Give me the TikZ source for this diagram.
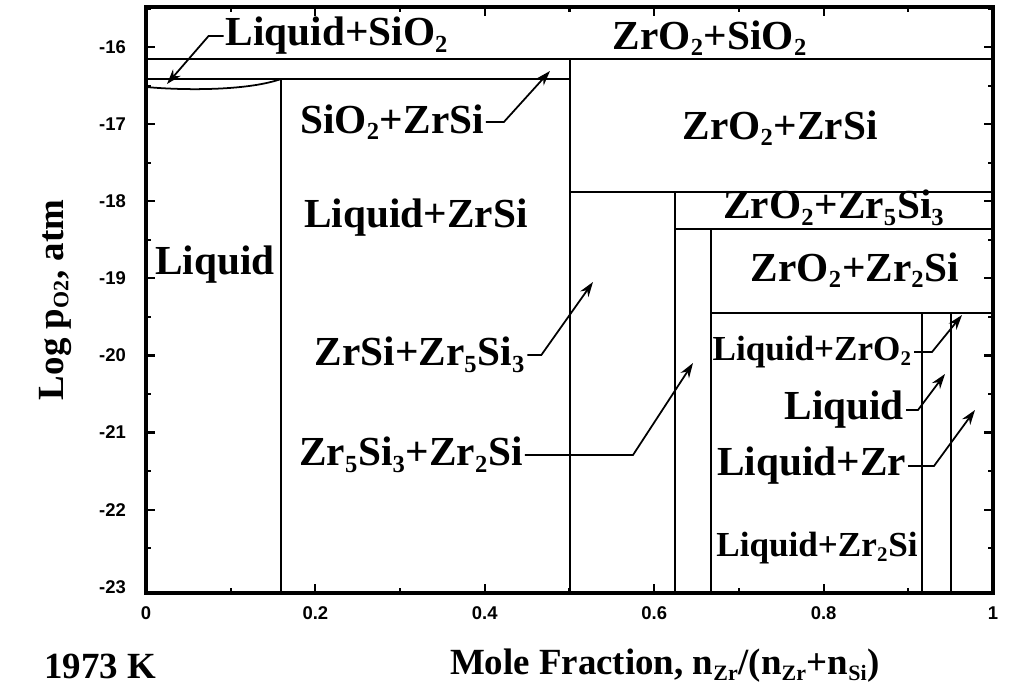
\documentclass[tikz,border=0pt]{standalone}
\usepackage{fontspec}
\setmainfont{Liberation Serif}
\setsansfont{Liberation Sans}
\usetikzlibrary{arrows.meta, positioning}
\newcommand{\sbs}[1]{\textsubscript{\scalebox{0.85}{#1}}}

\begin{document}
\begin{tikzpicture}[x=0.02cm, y=-0.02cm,
    phase/.style={font=\fontsize{23.5}{26}\selectfont\bfseries, inner sep=1pt},
    phasesm/.style={font=\fontsize{20}{22}\selectfont\bfseries, inner sep=1pt},
    axlabel/.style={font=\fontsize{21}{24}\selectfont\bfseries},
    ticklab/.style={font=\sffamily\bfseries\fontsize{10.5}{12}\selectfont},
    bound/.style={line width=1pt},
    leader/.style={line width=1pt, -{Stealth[length=3mm, width=2mm]}}
]
\useasboundingbox (0,0) rectangle (1018,689);

% frame
\draw[line width=2pt] (146,7) rectangle (993,593);

% ticks
\foreach \i in {0,...,10}{
  \pgfmathsetmacro{\tx}{146+84.7*\i}
  \pgfmathsetmacro{\tl}{ifthenelse(mod(\i,2)==0,9,5)}
  \draw[line width=1.2pt] (\tx,593) -- ++(0,-\tl);
  \draw[line width=1.2pt] (\tx,7) -- ++(0,\tl);
}
\foreach \j in {0,...,14}{
  \pgfmathsetmacro{\ty}{8.5+38.55*\j}
  \pgfmathsetmacro{\tl}{ifthenelse(mod(\j,2)==1,9,5)}
  \draw[line width=1.2pt] (146,\ty) -- ++(\tl,0);
  \draw[line width=1.2pt] (993,\ty) -- ++(-\tl,0);
}
\foreach \v [count=\k from 0] in {-16,-17,-18,-19,-20,-21,-22,-23}
  \node[ticklab, anchor=east] (yl\k) at (132,47+77.1*\k) {\v};
\foreach \v [count=\k from 0] in {0,0.2,0.4,0.6,0.8,1}
  \node[ticklab] (xl\k) at (146+169.4*\k,613) {\v};

% phase boundaries
\draw[bound] (146,59) -- (993,59);
\draw[bound] (146,79) -- (570,79);
\draw[bound] (146,87) .. controls (190,91) and (250,90) .. (281,79);
\draw[bound] (281,79) -- (281,593);
\draw[bound] (570,59) -- (570,593);
\draw[bound] (570,192) -- (993,192);
\draw[bound] (675,192) -- (675,593);
\draw[bound] (675,229) -- (993,229);
\draw[bound] (711,229) -- (711,593);
\draw[bound] (711,313) -- (993,313);
\draw[bound] (922,313) -- (922,593);
\draw[bound] (951,313) -- (951,593);

% region labels
\node[phase] (lsio) at (337,36) {Liquid+SiO\sbs{2}};
\node[phase] (zrsio) at (710,38) {ZrO\sbs{2}+SiO\sbs{2}};
\node[phase] (sizrsi) at (392,122) {SiO\sbs{2}+ZrSi};
\node[phase] (zrzrsi) at (780,128) {ZrO\sbs{2}+ZrSi};
\node[phase] (lzrsi) at (416,218) {Liquid+ZrSi};
\node[phase] (liq) at (215,265) {Liquid};
\node[phase] (zrzr5) at (834,208) {ZrO\sbs{2}+Zr\sbs{5}Si\sbs{3}};
\node[phase] (zrzr2) at (855,270) {ZrO\sbs{2}+Zr\sbs{2}Si};
\node[phase] (zr5) at (420,355) {ZrSi+Zr\sbs{5}Si\sbs{3}};
\node[phase] (zr52) at (411,455) {Zr\sbs{5}Si\sbs{3}+Zr\sbs{2}Si};
\node[phasesm, anchor=east] (lzro) at (914,352) {Liquid+ZrO\sbs{2}};
\node[phase, anchor=east] (liqr) at (906,410) {Liquid};
\node[phase, anchor=east] (lzr) at (908,466) {Liquid+Zr};
\node[phasesm] (lzr2) at (817,548) {Liquid+Zr\sbs{2}Si};

% leaders
\coordinate (t1) at (167,84);
\coordinate (t2) at (550,71);
\coordinate (t3) at (593,282);
\coordinate (t4) at (693,363);
\coordinate (t5) at (962,315);
\coordinate (t6) at (945,374);
\coordinate (t7) at (975,410);
\draw[leader] (lsio.west) -- ++(-15,0) -- (t1);
\draw[leader] (sizrsi.east) -- ++(18,0) -- (t2);
\draw[leader] (zr5.east) -- ++(14,0) -- (t3);
\draw[leader] (zr52.east) -- (633,455) -- (t4);
\draw[leader] (lzro.east) -- ++(18,0) -- (t5);
\draw[leader] (liqr.east) -- ++(12,0) -- (t6);
\draw[leader] (lzr.east) -- ++(26,0) -- (t7);

% axis titles
\node[axlabel, rotate=90] (ylab) at (55,300) {Log p\sbs{O2}, atm};
\node[axlabel] (xlab) at (665,666) {Mole Fraction, n\sbs{Zr}/(n\sbs{Zr}+n\sbs{Si})};
\node[axlabel] (temp) at (100,666) {1973 K};
\end{tikzpicture}
\end{document}
